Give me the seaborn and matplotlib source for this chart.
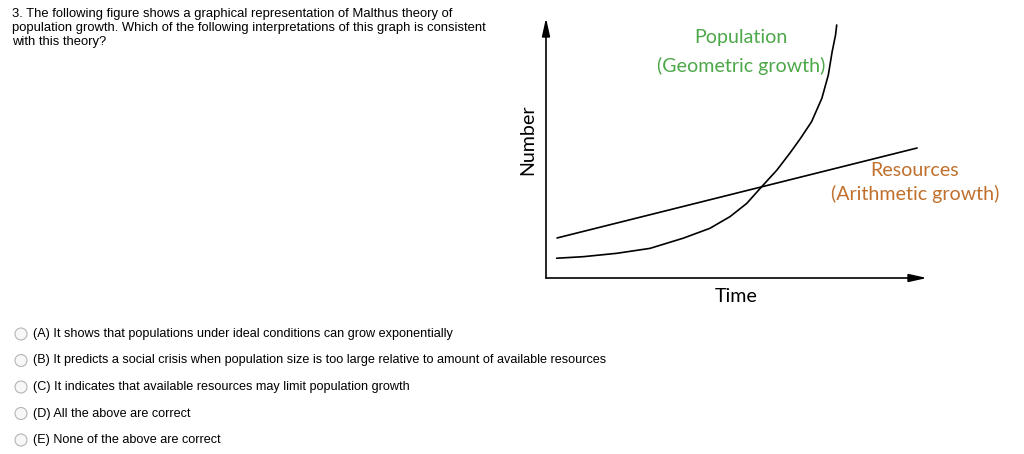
import matplotlib
matplotlib.use("Agg")
import matplotlib.pyplot as plt
from matplotlib.patches import Ellipse
import seaborn as sns

# Question text
QUESTION_LINES = [
    "3. The following figure shows a graphical representation of Malthus theory of",
    "population growth. Which of the following interpretations of this graph is consistent",
    "with this theory?",
]
OPTIONS = [
    "(A) It shows that populations under ideal conditions can grow exponentially",
    "(B) It predicts a social crisis when population size is too large relative to amount of available resources",
    "(C) It indicates that available resources may limit population growth",
    "(D) All the above are correct",
    "(E) None of the above are correct",
]

# Curves (arbitrary units, 0-10 on both axes)
pop_time = [0.28, 0.98, 1.86, 2.73, 3.60, 4.30, 4.83, 5.27, 5.66, 6.06,
            6.40, 6.67, 6.97, 7.24, 7.41, 7.51, 7.60, 7.63]
pop_number = [0.76, 0.82, 0.95, 1.14, 1.53, 1.91, 2.36, 2.87, 3.51, 4.15,
              4.80, 5.35, 6.01, 6.91, 7.81, 8.70, 9.35, 9.73]
res_time = [0.29, 9.74]
res_number = [1.54, 5.00]

GREEN = "#4da84a"
ORANGE = "#c0702c"

W, H = 1024, 454


def fx(x):
    return x / W


def fy(y):
    return 1 - y / H


sns.set_theme(style="white")
plt.rcParams["font.family"] = ["Liberation Sans", "DejaVu Sans"]

fig = plt.figure(figsize=(W / 100, H / 100), dpi=100)
fig.patch.set_facecolor("white")

ax = fig.add_axes([fx(546), fy(278), (927 - 546) / W, (278 - 18) / H])
sns.lineplot(x=pop_time, y=pop_number, color="black", lw=1.2, ax=ax, sort=False)
sns.lineplot(x=res_time, y=res_number, color="black", lw=1.2, ax=ax, sort=False)
ax.set_xlim(0, 10)
ax.set_ylim(0, 10)
for s in ax.spines.values():
    s.set_visible(False)
ax.set_xticks([])
ax.set_yticks([])
ax.set_xlabel("")
ax.set_ylabel("")
ax.patch.set_alpha(0)

arrow = dict(arrowstyle="-|>,head_length=0.9,head_width=0.2", color="black", lw=1.2,
             shrinkA=0, shrinkB=0)
ax.annotate("", xy=(0, 1), xytext=(0, 0), xycoords="axes fraction",
            arrowprops=arrow, annotation_clip=False)
ax.annotate("", xy=(1, 0), xytext=(0, 0), xycoords="axes fraction",
            arrowprops=arrow, annotation_clip=False)

chart_font = ["Lato", "DejaVu Sans"]
fs = 14.1
fig.text(fx(528), fy(140), "Number", rotation=90, ha="center", va="center",
         fontsize=fs, family=chart_font, color="black")
fig.text(fx(736), fy(296), "Time", ha="center", va="center",
         fontsize=fs, family=chart_font, color="black")
fig.text(fx(741), fy(38), "Population", ha="center", va="center",
         fontsize=fs, family=chart_font, color=GREEN)
fig.text(fx(741), fy(66), "(Geometric growth)", ha="center", va="center",
         fontsize=fs, family=chart_font, color=GREEN)
fig.text(fx(915), fy(170), "Resources", ha="center", va="center",
         fontsize=fs, family=chart_font, color=ORANGE)
fig.text(fx(915), fy(194), "(Arithmetic growth)", ha="center", va="center",
         fontsize=fs, family=chart_font, color=ORANGE)

for i, line in enumerate(QUESTION_LINES):
    fig.text(fx(12), fy(17 + 14 * i), line, ha="left", va="baseline",
             fontsize=9.35, color="black")

for i, opt in enumerate(OPTIONS):
    yc = 334 + 26.5 * i
    fig.add_artist(Ellipse((fx(21), fy(yc)), 12 / W, 12 / H,
                           facecolor="#f7f7f7", edgecolor="#b5b5b5", lw=0.8))
    fig.text(fx(33), fy(yc), opt, ha="left", va="center",
             fontsize=9.1, color="black")

fig.savefig("out.png", dpi=100, facecolor="white")
